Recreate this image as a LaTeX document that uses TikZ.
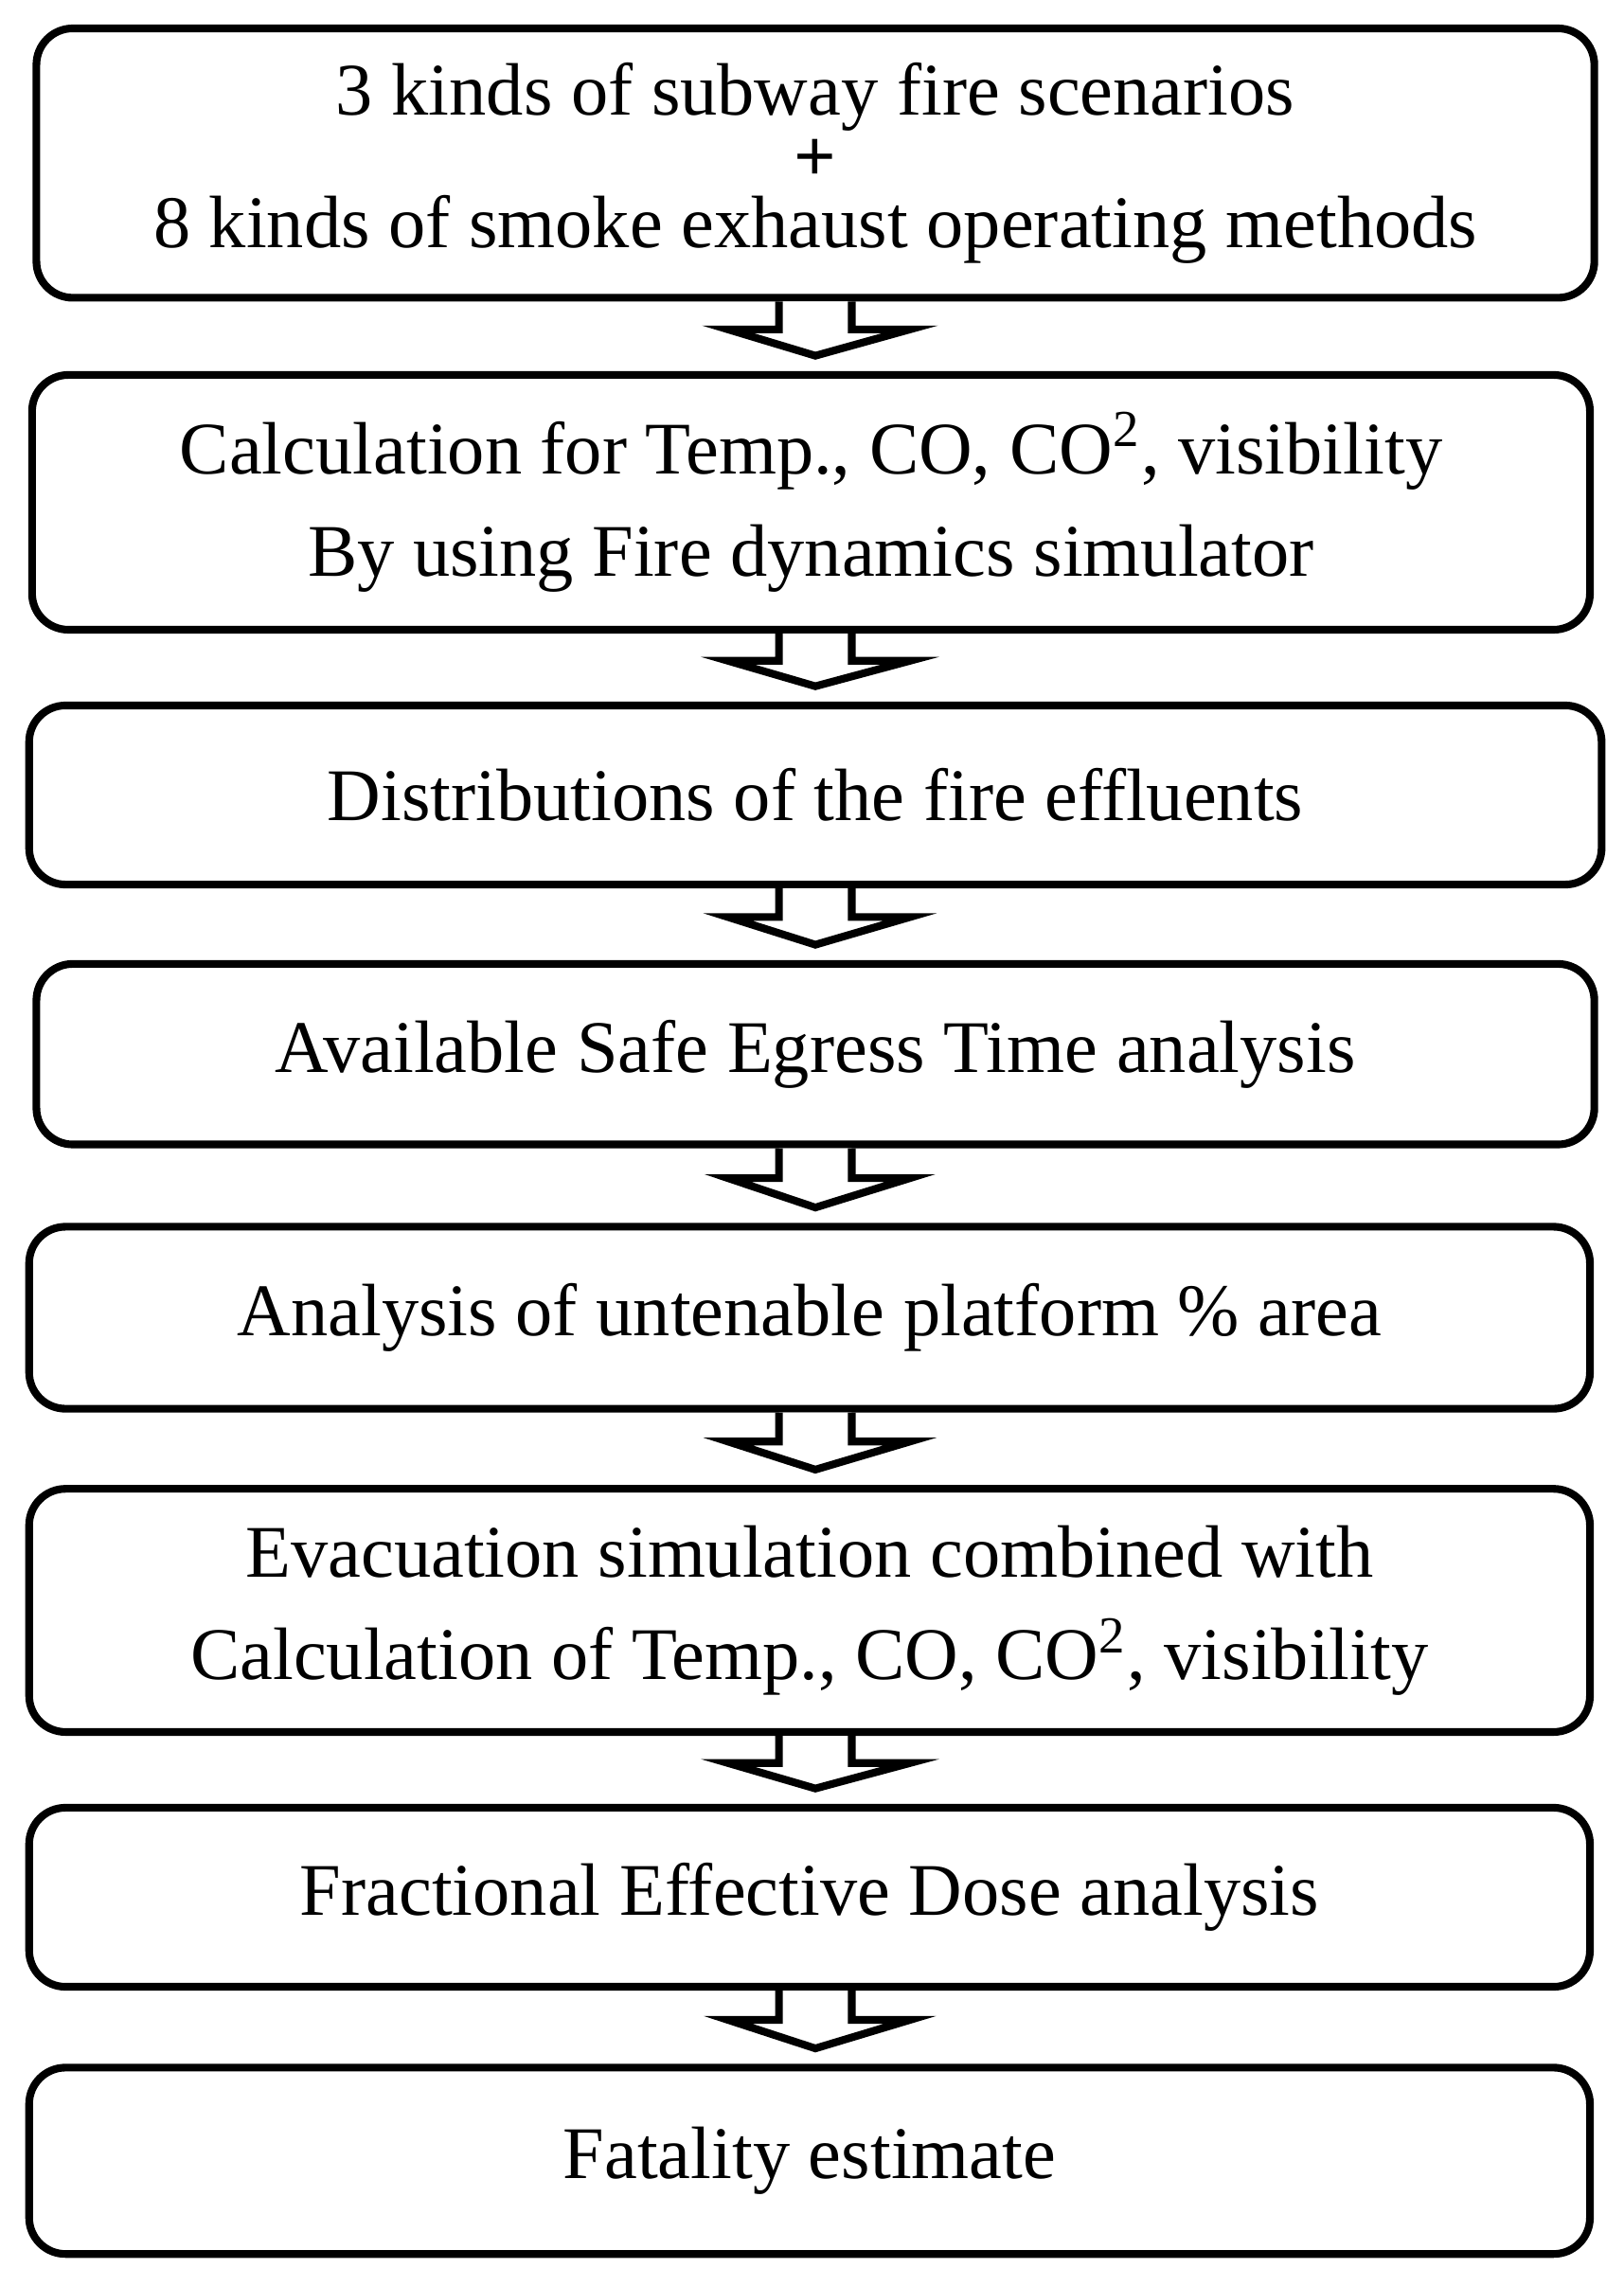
\documentclass[tikz,border=0pt]{standalone}
\usepackage{fontspec}
\setmainfont{Liberation Serif}
\usetikzlibrary{calc}
\begin{document}
\begin{tikzpicture}[x=0.01cm,y=-0.01cm,
  stepbox/.style={draw,line width=1.5pt,rounded corners=0.25cm,minimum width=10.7cm,align=center,font=\fontsize{14.5}{21}\selectfont,inner sep=0pt},
  barrow/.style={draw,line width=1.5pt,fill=white,line join=miter}]
\useasboundingbox (0,0) rectangle (1115,1570);
\newcommand\mybox[5]{\node[stepbox,minimum width=#3*0.01cm,minimum height=#4*0.01cm] (#1) at #2 {#5};}
\mybox{b1}{(560,112)}{1070}{185}{3 kinds of subway fire scenarios\\[-8pt]\textbf{+}\\[-8pt]8 kinds of smoke exhaust operating methods}
\mybox{b2}{(557,345)}{1070}{175}{Calculation for Temp., CO, CO\textsuperscript{2}, visibility\\[-1pt]By using Fire dynamics simulator}
\mybox{b3}{(560,546)}{1080}{123}{Distributions of the fire effluents}
\mybox{b4}{(560,724)}{1070}{124}{Available Safe Egress Time analysis}
\mybox{b5}{(556,905)}{1072}{125}{Analysis of untenable platform \% area}
\mybox{b6}{(556,1106)}{1072}{167}{Evacuation simulation combined with\\[-1pt]Calculation of Temp., CO, CO\textsuperscript{2}, visibility}
\mybox{b7}{(556,1303)}{1072}{123}{Fractional Effective Dose analysis}
\mybox{b8}{(556,1484)}{1072}{128}{Fatality estimate}
\newcommand\blockarrow[2]{%
  \path let \p1=(#1.south), \p2=(#2.north) in
    [barrow] (560*0.01cm-25*0.01cm,\y1) -- (560*0.01cm-25*0.01cm,{\y1+(\y2-\y1)*0.4}) -- (560*0.01cm-60*0.01cm,{\y1+(\y2-\y1)*0.4})
    -- (560*0.01cm,\y2+3pt) -- (560*0.01cm+65*0.01cm,{\y1+(\y2-\y1)*0.4}) -- (560*0.01cm+25*0.01cm,{\y1+(\y2-\y1)*0.4}) -- (560*0.01cm+25*0.01cm,\y1);}
\blockarrow{b1}{b2}
\blockarrow{b2}{b3}
\blockarrow{b3}{b4}
\blockarrow{b4}{b5}
\blockarrow{b5}{b6}
\blockarrow{b6}{b7}
\blockarrow{b7}{b8}
\end{tikzpicture}
\end{document}
